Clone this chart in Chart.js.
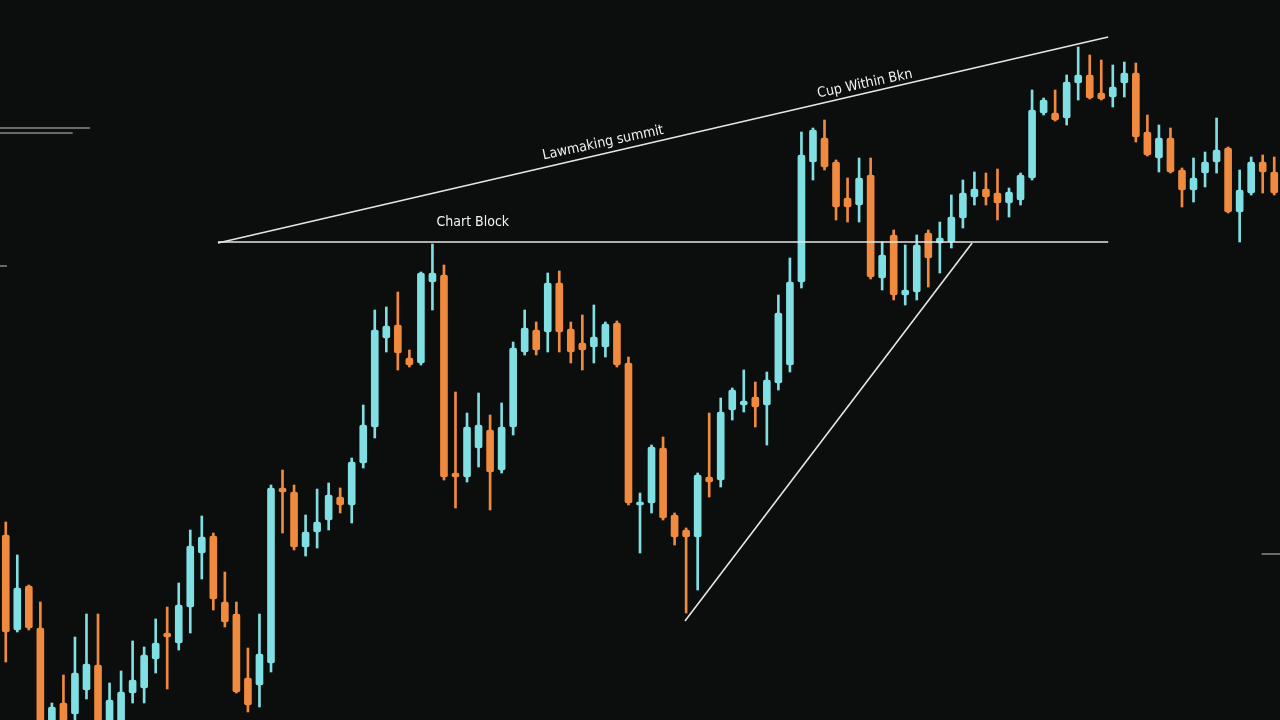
<!DOCTYPE html>
<html>
<head>
<meta charset="utf-8">
<script src="https://cdn.jsdelivr.net/npm/chart.js@4.4.1/dist/chart.umd.min.js"></script>
<style>
    html, body { margin: 0; padding: 0; background: #0c0e0e; }
    #wrap { width: 1280px; height: 720px; position: relative; }
</style>
</head>
<body>
<div id="wrap"><canvas id="priceChart"></canvas></div>
<script>
// candle values (price units), one entry per session
const opens = [185, 90, 134, 92, -20, 17, 6, 30, 55, -10, -10, 27, 32, 61, 87, 77, 113, 167, 184, 118,
    106, 42, 35, 57, 232, 228, 173, 188, 200, 223, 215, 257, 293, 382, 395, 362, 357, 438, 445, 247,
    243, 272, 290, 250, 293, 368, 390, 388, 437, 391, 377, 373, 373, 397, 357, 215, 217, 272, 205, 190,
    183, 243, 240, 310, 315, 323, 315, 337, 355, 438, 558, 582, 558, 522, 515, 545, 442, 485, 425, 428,
    487, 477, 478, 502, 523, 531, 527, 517, 520, 542, 607, 607, 602, 637, 645, 627, 623, 637, 647, 588,
    562, 582, 550, 530, 547, 558, 572, 508, 527, 558, 548];
const highs = [198, 165, 135, 118, 17, 45, 83, 106, 106, 37, 49, 79, 73, 101, 113, 137, 190, 204, 187, 148,
    118, 72, 106, 235, 250, 235, 205, 231, 237, 232, 262, 315, 410, 413, 428, 370, 448, 476, 455, 328,
    307, 327, 305, 317, 378, 410, 398, 447, 449, 398, 405, 415, 398, 399, 363, 227, 275, 283, 207, 192,
    247, 307, 322, 332, 350, 338, 348, 425, 462, 588, 592, 600, 560, 542, 562, 562, 478, 490, 475, 485,
    490, 498, 525, 540, 548, 547, 551, 532, 547, 630, 622, 630, 645, 673, 665, 660, 655, 658, 657, 605,
    595, 592, 552, 562, 568, 602, 573, 550, 563, 565, 563];
const lows = [58, 88, 90, -50, -30, -30, 0, 21, -30, -20, -20, 17, 17, 47, 31, 70, 87, 141, 110, 93,
    27, 8, 13, 48, 187, 170, 164, 172, 190, 207, 197, 252, 282, 368, 350, 353, 355, 410, 240, 212,
    238, 253, 210, 247, 285, 365, 365, 368, 368, 357, 350, 357, 363, 353, 215, 167, 207, 200, 175, 107,
    130, 223, 233, 300, 308, 293, 275, 330, 348, 432, 540, 550, 500, 498, 498, 441, 430, 420, 415, 420,
    433, 447, 472, 492, 515, 515, 500, 503, 515, 540, 605, 599, 595, 620, 621, 620, 613, 623, 578, 564,
    548, 547, 513, 518, 533, 547, 507, 478, 525, 527, 525];
const closes = [88, 132, 92, -40, 13, -20, 47, 56, -20, 20, 28, 40, 65, 77, 83, 115, 174, 183, 121, 98,
    28, 15, 66, 232, 228, 173, 188, 198, 225, 215, 258, 295, 390, 394, 367, 355, 447, 447, 243, 243,
    293, 295, 248, 293, 372, 392, 370, 437, 388, 368, 370, 383, 396, 355, 217, 218, 273, 202, 183, 183,
    245, 238, 308, 330, 319, 313, 340, 407, 438, 565, 590, 553, 513, 513, 542, 443, 465, 425, 430, 475,
    462, 482, 503, 527, 531, 523, 517, 528, 545, 610, 620, 600, 638, 645, 622, 621, 633, 647, 583, 565,
    582, 548, 530, 542, 558, 570, 508, 530, 558, 548, 527];

// drawn trend lines, x in session index, y in price
const necklineX = [18.4, 95.6];
const necklineY = [478, 478];
const upperTrendX = [18.4, 95.6];
const upperTrendY = [477, 683];
const lowerTrendX = [58.9, 83.8];
const lowerTrendY = [99, 477];
const stubLines = [
    { x: [-0.5, 7.3], y: [592, 592] },
    { x: [-0.5, 5.8], y: [587, 587] },
    { x: [-0.5, 0.1], y: [454, 454] },
    { x: [108.9, 110.5], y: [166, 166] }
];
const noteTexts = ['Chart Block', 'Lawmaking summit', 'Cup Within Bkn'];

const UP = '#80dfe2';
const DOWN = '#f08a3e';
const LINE = '#e6e6e6';

const candleColors = opens.map((o, i) => (closes[i] >= o ? UP : DOWN));

const toPoints = (xs, ys) => xs.map((x, i) => ({ x: x, y: ys[i] }));

const lineSet = (xs, ys, color, width) => ({
    type: 'line',
    data: toPoints(xs, ys),
    borderColor: color,
    borderWidth: width,
    pointRadius: 0,
    fill: false,
    tension: 0,
    order: 0
});

// labels sitting on the lines
const notes = {
    id: 'notes',
    afterDatasetsDraw(chart) {
        const { ctx, scales } = chart;
        const spots = [
            { x: 40.5, y: 498, angle: 0 },
            { x: 51.8, y: 577, angle: -12 },
            { x: 74.5, y: 636, angle: -12 }
        ];
        ctx.save();
        ctx.fillStyle = '#f2f2f2';
        ctx.font = '14px "DejaVu Sans Condensed", "DejaVu Sans", sans-serif';
        ctx.textAlign = 'center';
        ctx.textBaseline = 'middle';
        noteTexts.forEach((text, i) => {
            const s = spots[i];
            ctx.save();
            ctx.translate(scales.x.getPixelForValue(s.x), scales.y.getPixelForValue(s.y));
            ctx.rotate((s.angle * Math.PI) / 180);
            ctx.fillText(text, 0, 0);
            ctx.restore();
        });
        ctx.restore();
    }
};

const datasets = [
    lineSet(necklineX, necklineY, LINE, 1.6),
    lineSet(upperTrendX, upperTrendY, LINE, 1.6),
    lineSet(lowerTrendX, lowerTrendY, LINE, 1.6),
    {
        type: 'bar',
        data: opens.map((o, i) => ({ x: i, y: [o, closes[i]] })),
        backgroundColor: candleColors,
        barThickness: 7,
        borderRadius: 2,
        borderSkipped: false,
        grouped: false,
        order: 1
    },
    {
        type: 'bar',
        data: lows.map((l, i) => ({ x: i, y: [l, highs[i]] })),
        backgroundColor: candleColors,
        barThickness: 2,
        grouped: false,
        order: 2
    }
];
stubLines.forEach((s) => datasets.push(lineSet(s.x, s.y, '#8a8a8a', 1.5)));

new Chart(document.getElementById('priceChart'), {
    type: 'bar',
    data: { datasets: datasets },
    options: {
        responsive: true,
        maintainAspectRatio: false,
        animation: false,
        layout: { padding: 0 },
        scales: {
            x: { type: 'linear', min: -0.5, max: 110.5, offset: false, display: false },
            y: { min: 0, max: 720, display: false }
        },
        plugins: {
            legend: { display: false },
            tooltip: { enabled: false }
        }
    },
    plugins: [notes]
});
</script>
</body>
</html>
